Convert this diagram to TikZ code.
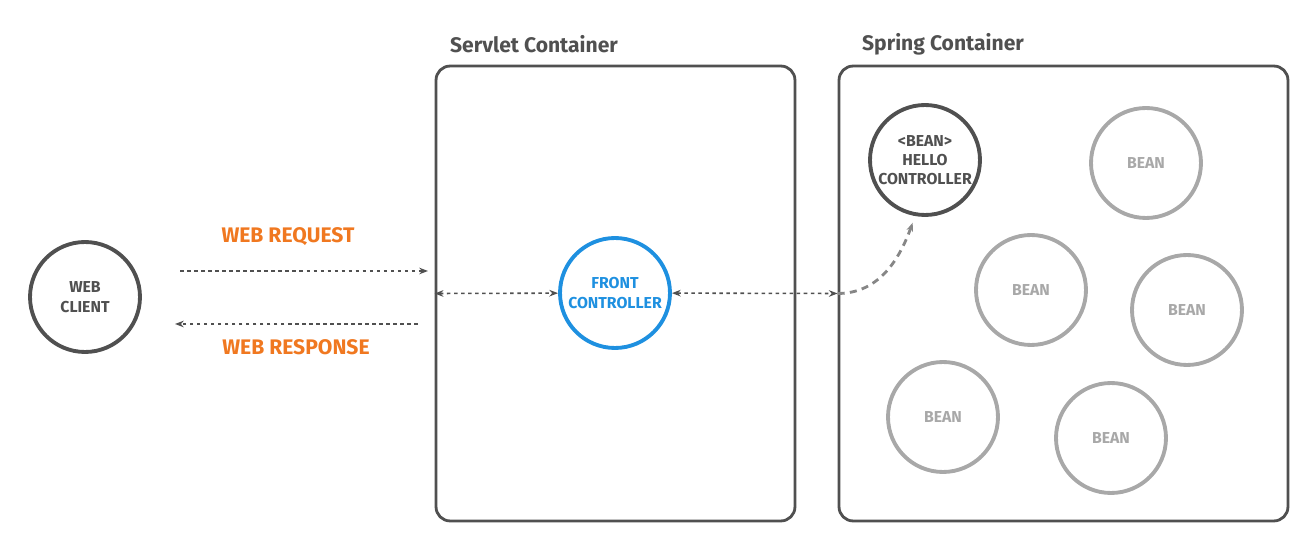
\documentclass[tikz,border=0pt]{standalone}
\usepackage{fontspec}
\setmainfont{Fira Sans}
\usetikzlibrary{arrows.meta}
\definecolor{darkgr}{HTML}{505050}
\definecolor{lightgr}{HTML}{A8A8A8}
\definecolor{springblue}{HTML}{1E90E0}
\definecolor{reqorange}{HTML}{F07820}
\tikzset{
  box/.style={draw=darkgr, line width=1.6pt, rounded corners=8pt},
  ball/.style={circle, draw, line width=2.2pt, minimum size=2.2cm, inner sep=0pt, align=center, font=\bfseries\small},
  title/.style={font=\bfseries\large, text=darkgr},
  msg/.style={font=\bfseries\large, text=reqorange},
  link/.style={darkgr, line width=0.9pt, dash pattern=on 2pt off 2pt, -{Stealth[length=5pt]}},
}
\begin{document}
\begin{tikzpicture}[x=0.02cm, y=-0.02cm]
  \useasboundingbox (0,0) rectangle (1313,560);
  \node[box, minimum width=7.18cm, minimum height=9.1cm] (servlet) at (615.5,293.5) {};
  \node[box, minimum width=8.98cm, minimum height=9.1cm] (spring) at (1063.5,293.5) {};
  \node[title] (servlettitle) at (534,44) {Servlet Container};
  \node[title] (springtitle) at (943,44) {Spring Container};
  \node[ball, draw=darkgr, text=darkgr] (client) at (85,297) {WEB\\CLIENT};
  \node[ball, draw=springblue, text=springblue] (front) at (615,293) {FRONT\\CONTROLLER};
  \node[ball, draw=darkgr, text=darkgr] (hello) at (925,160) {\textless BEAN\textgreater\\HELLO\\CONTROLLER};
  \node[ball, draw=lightgr, text=lightgr] (bean1) at (1146,163) {BEAN};
  \node[ball, draw=lightgr, text=lightgr] (bean2) at (1031,290) {BEAN};
  \node[ball, draw=lightgr, text=lightgr] (bean3) at (1187,310) {BEAN};
  \node[ball, draw=lightgr, text=lightgr] (bean4) at (943,417) {BEAN};
  \node[ball, draw=lightgr, text=lightgr] (bean5) at (1111,438) {BEAN};
  % request / response
  \coordinate (reqstart) at (180,271);
  \coordinate (reqend) at (428,271);
  \coordinate (resstart) at (418,324);
  \coordinate (resend) at (175,324);
  \draw[link] (reqstart) -- (reqend);
  \draw[link] (resstart) -- (resend);
  \node[msg] (reqlabel) at (288,237) {WEB REQUEST};
  \node[msg] (reslabel) at (296,347) {WEB RESPONSE};
  % dispatching
  \draw[link, {Stealth[length=5pt]}-{Stealth[length=5pt]}] (servlet.west) -- (front);
  \draw[link, {Stealth[length=5pt]}-{Stealth[length=5pt]}] (front) -- (spring.west);
  \draw[link, draw=lightgr!80!black, line width=1.6pt, dash pattern=on 4pt off 3pt, shorten >=4pt] (spring.west) to[out=0, in=250] (hello.-100);
\end{tikzpicture}
\end{document}
